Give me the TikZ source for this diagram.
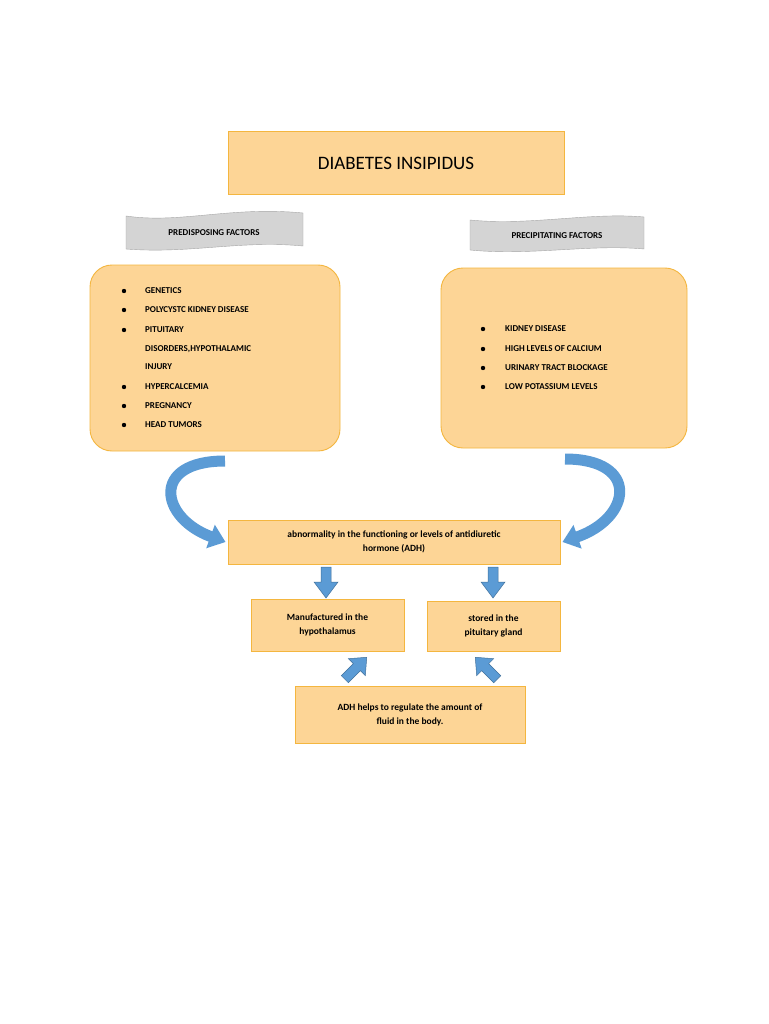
\documentclass[tikz,border=0pt]{standalone}
\usepackage{fontspec}
\setmainfont{Carlito}
\usetikzlibrary{arrows.meta}
\definecolor{boxfill}{HTML}{FDD596}
\definecolor{boxline}{HTML}{F4B63F}
\definecolor{arr}{HTML}{5B9BD5}
\definecolor{arrdark}{HTML}{41719C}
\definecolor{banner}{HTML}{D4D4D4}
\tikzset{
 box/.style={fill=boxfill,draw=boxline,line width=0.9pt,align=center,font=\fontsize{9.5}{14}\selectfont\bfseries},
 rbox/.style={box,rounded corners=22pt},
 blockarrow/.style={draw=arrdark,line width=0.5pt,fill=arr},
 curvearrow/.style={arr,line width=11pt,-{Triangle[width=24pt,length=16pt]}},
 btxt/.style={font=\fontsize{9}{11}\selectfont\bfseries,anchor=west,inner sep=0pt},
}
\begin{document}
\begin{tikzpicture}[x=1pt,y=-1pt]
\useasboundingbox (0,0) rectangle (768,1024);
\fill[white] (0,0) rectangle (768,1024);
% title
\draw[box] (228,131) rectangle (564,194);
\node[font=\fontsize{19}{22}\selectfont] (title) at (396,163) {DIABETES INSIPIDUS};
% banners
\draw[draw=gray!70,fill=banner] (126,216) .. controls (180,224) and (230,206) .. (303,213) -- (303,246) .. controls (240,240) and (190,254) .. (126,249) -- cycle;
\node[font=\fontsize{9}{11}\selectfont\bfseries] (pf) at (214,233) {PREDISPOSING FACTORS};
\draw[draw=gray!70,fill=banner] (470,220) .. controls (530,226) and (590,212) .. (644,217) -- (644,249) .. controls (590,244) and (530,256) .. (470,250) -- cycle;
\node[font=\fontsize{9}{11}\selectfont\bfseries] (cf) at (557,236) {PRECIPITATING FACTORS};
% rounded boxes
\draw[rbox] (90,265) rectangle (340,451);
\coordinate (lbox) at (215,451);
\foreach \y/\t in {291/GENETICS,310/POLYCYSTC KIDNEY DISEASE,330/PITUITARY,387/HYPERCALCEMIA,406/PREGNANCY,425/HEAD TUMORS}{
 \fill (124,\y) circle (2.2);
 \node[btxt] at (145,\y) {\t};
}
\node[btxt] at (145,349) {DISORDERS,HYPOTHALAMIC};
\node[btxt] at (145,367) {INJURY};
\draw[rbox] (441,268) rectangle (687,448);
\foreach \y/\t in {329/KIDNEY DISEASE,349/HIGH LEVELS OF CALCIUM,368/URINARY TRACT BLOCKAGE,387/LOW POTASSIUM LEVELS}{
 \fill (483,\y) circle (2.2);
 \node[btxt] at (505,\y) {\t};
}
% ADH box
\node[box,minimum width=332pt,minimum height=44pt] (adh) at (394,542) {abnormality in the functioning or levels of antidiuretic\\hormone (ADH)};
\node[box,minimum width=153pt,minimum height=52pt] (man) at (327.5,625) {Manufactured in the\\hypothalamus};
\node[box,minimum width=133pt,minimum height=50pt] (sto) at (493.5,626) {stored in the\\pituitary gland};
\node[box,minimum width=230pt,minimum height=57pt] (bot) at (410,714.5) {ADH helps to regulate the amount of\\fluid in the body.};
% curved arrows
\coordinate (la) at (225,461);
\coordinate (ra) at (565,459);
\draw[curvearrow] (la) .. controls (150,461) and (160,518) .. ([xshift=-2pt]adh.west);
\draw[curvearrow] (ra) .. controls (640,459) and (632,518) .. ([xshift=2pt]adh.east);
% small block arrows
\foreach \x in {326,493}{
 \draw[blockarrow] (\x-5,567) -- (\x+5,567) -- (\x+5,582) -- (\x+12,582) -- (\x,598) -- (\x-12,582) -- (\x-5,582) -- cycle;
}
\draw[blockarrow,shift={(354,670)},rotate=45] (-13,-5) -- (4,-5) -- (4,-12) -- (18,0) -- (4,12) -- (4,5) -- (-13,5) -- cycle;
\draw[blockarrow,shift={(488,670)},rotate=135] (-13,-5) -- (4,-5) -- (4,-12) -- (18,0) -- (4,12) -- (4,5) -- (-13,5) -- cycle;
\end{tikzpicture}
\end{document}
